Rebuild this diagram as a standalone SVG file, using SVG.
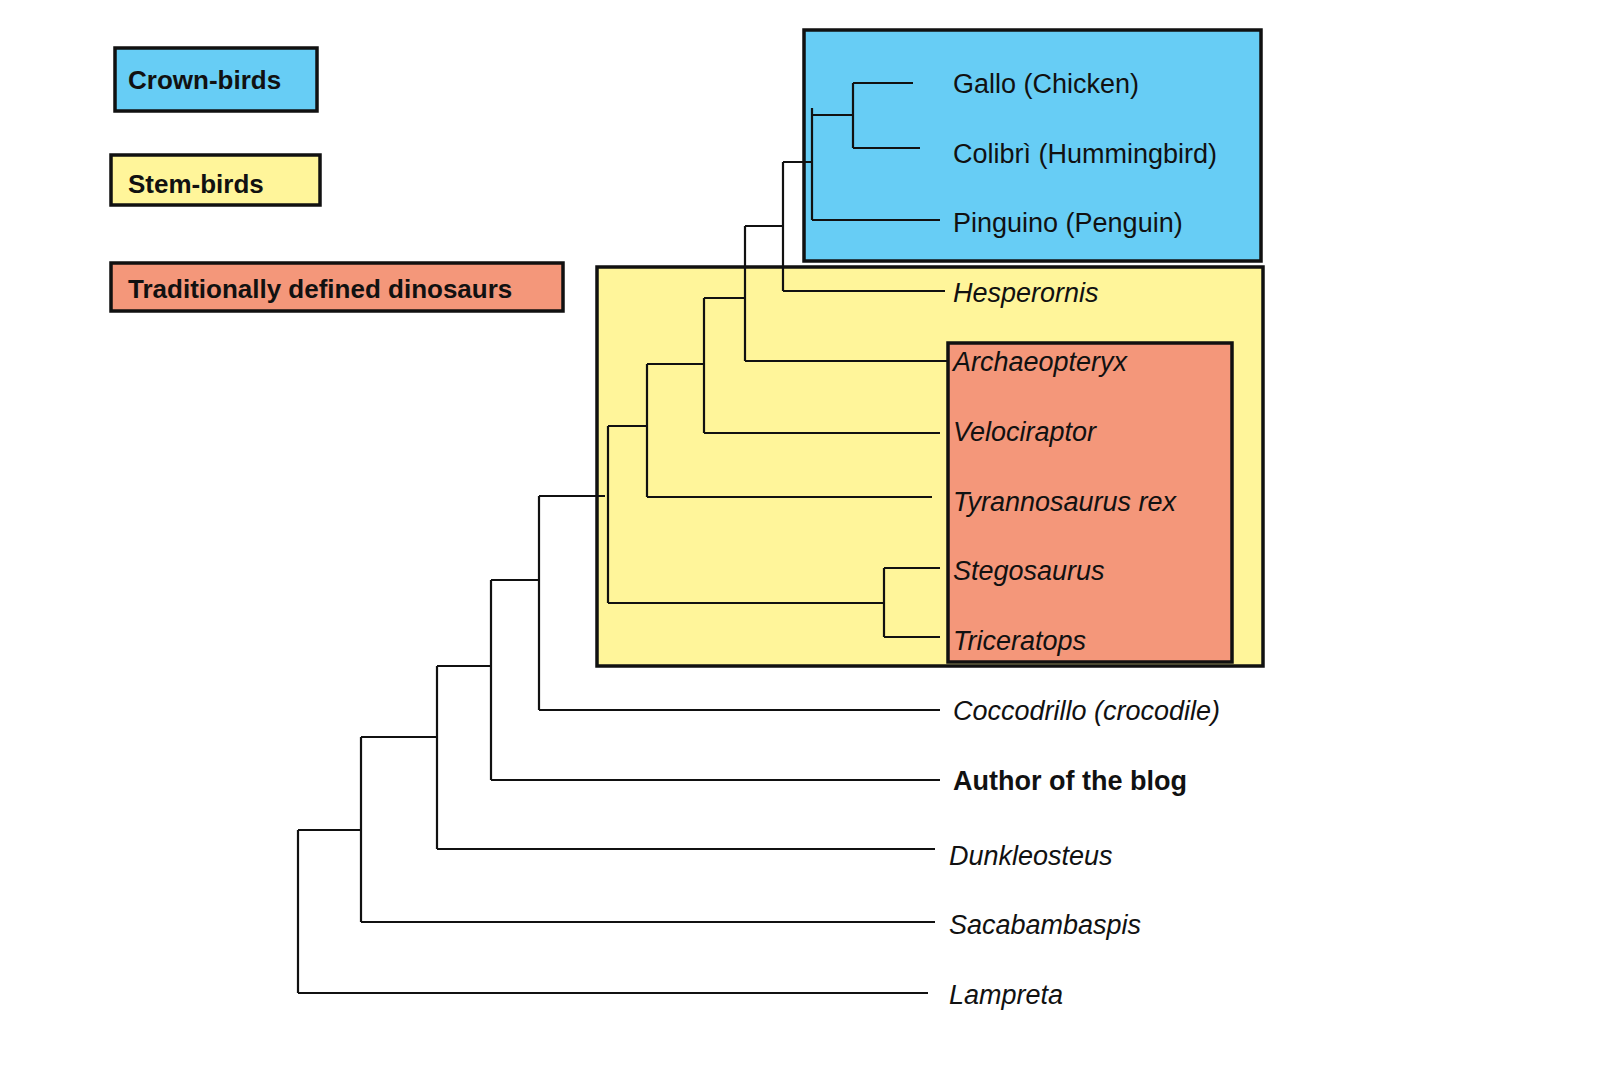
<svg xmlns="http://www.w3.org/2000/svg" width="1600" height="1072" viewBox="0 0 1600 1072">
<style>
.box{stroke:#111;stroke-width:3.5}
.t{font-family:"Liberation Sans",Arial,sans-serif;font-size:27px;fill:#111}
.i{font-style:italic}
.b{font-weight:bold}
.lg{font-family:"Liberation Sans",Arial,sans-serif;font-size:26px;font-weight:bold;fill:#111}
#connectors path{stroke:#111;stroke-width:2.2;fill:none}
</style>
<rect width="1600" height="1072" fill="#fff"/>
<g id="legend-crown"><rect class="box" x="115" y="48" width="202" height="63" fill="#67cdf5"/><text class="lg" x="128" y="89">Crown-birds</text></g>
<g id="legend-stem"><rect class="box" x="111" y="155" width="209" height="50" fill="#fff59a"/><text class="lg" x="128" y="193">Stem-birds</text></g>
<g id="legend-dino"><rect class="box" x="111" y="263" width="452" height="48" fill="#f4977a"/><text class="lg" x="128" y="298">Traditionally defined dinosaurs</text></g>
<g id="crown-box"><rect class="box" x="804" y="30" width="457" height="231" fill="#67cdf5"/></g>
<g id="stem-box"><rect class="box" x="597" y="267" width="666" height="399" fill="#fff59a"/></g>
<g id="dino-box"><rect class="box" x="948" y="343" width="284" height="319" fill="#f4977a"/></g>
<g id="connectors">
<path d="M853,83H913M853,148H920M853,83V148"/>
<path d="M812,115H853M812,220H940M812,108V220"/>
<path d="M783,162H812M783,291H945M783,162V291"/>
<path d="M745,226H783M745,361H948M745,226V361"/>
<path d="M704,298H745M704,433H940M704,298V433"/>
<path d="M647,364H704M647,497H932M647,364V497"/>
<path d="M884,568H940M884,637H940M884,568V637M608,603H884"/>
<path d="M608,426H647M608,426V603"/>
<path d="M539,496H605M539,710H940M539,496V710"/>
<path d="M491,580H539M491,780H940M491,580V780"/>
<path d="M437,666H491M437,849H935M437,666V849"/>
<path d="M361,737H437M361,922H935M361,737V922"/>
<path d="M298,830H361M298,993H928M298,830V993"/>
</g>
<g id="gallo"><text class="t" x="953" y="93">Gallo (Chicken)</text></g>
<g id="colibri"><text class="t" x="953" y="163">Colibrì (Hummingbird)</text></g>
<g id="pinguino"><text class="t" x="953" y="232">Pinguino (Penguin)</text></g>
<g id="hesperornis"><text class="t i" x="953" y="302">Hesperornis</text></g>
<g id="archaeopteryx"><text class="t i" x="953" y="371">Archaeopteryx</text></g>
<g id="velociraptor"><text class="t i" x="953" y="441">Velociraptor</text></g>
<g id="trex"><text class="t i" x="953" y="511">Tyrannosaurus rex</text></g>
<g id="stegosaurus"><text class="t i" x="953" y="580">Stegosaurus</text></g>
<g id="triceratops"><text class="t i" x="953" y="650">Triceratops</text></g>
<g id="coccodrillo"><text class="t i" x="953" y="720">Coccodrillo (crocodile)</text></g>
<g id="author"><text class="t b" x="953" y="790">Author of the blog</text></g>
<g id="dunkleosteus"><text class="t i" x="949" y="865">Dunkleosteus</text></g>
<g id="sacabambaspis"><text class="t i" x="949" y="934">Sacabambaspis</text></g>
<g id="lampreta"><text class="t i" x="949" y="1004">Lampreta</text></g>
</svg>
